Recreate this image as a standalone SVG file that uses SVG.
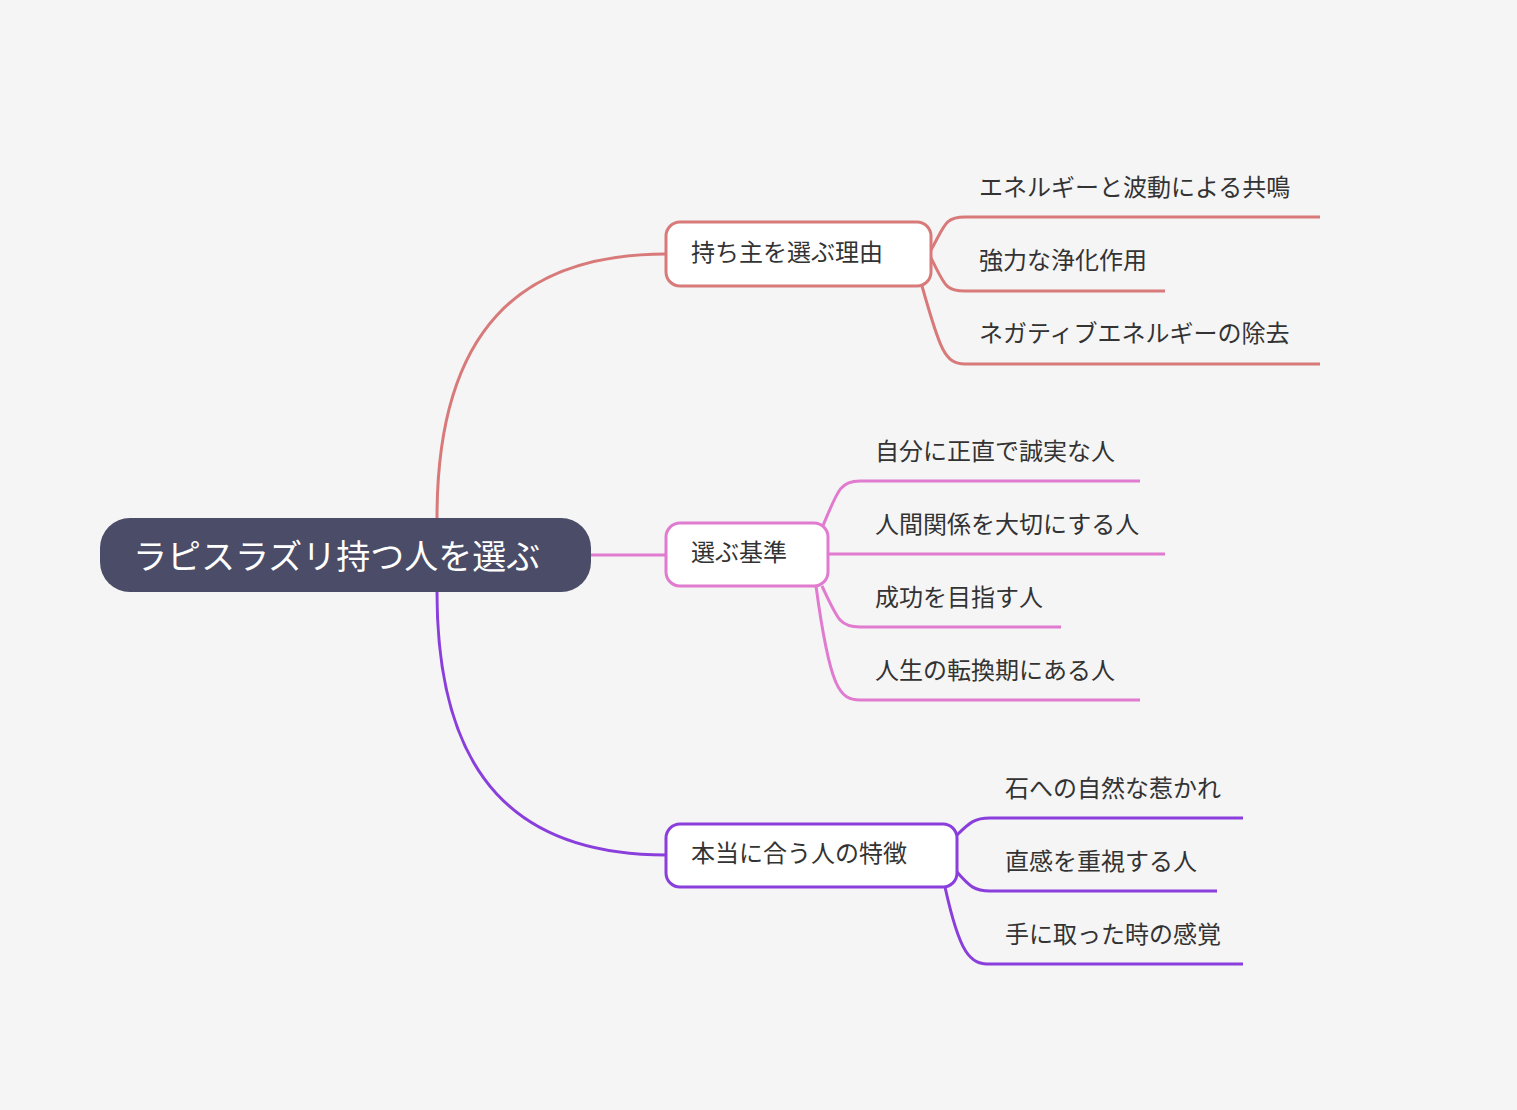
<svg xmlns="http://www.w3.org/2000/svg" width="1517" height="1110" viewBox="0 0 1517 1110">
<style>
text{font-family:"Noto Sans CJK JP","Noto Sans",sans-serif;fill:#333;font-size:24px}
.c{fill:none;stroke-width:3}
.n{fill:#fff;stroke-width:3}
.a{stroke:#d97a7a}.b{stroke:#e07bd0}.p{stroke:#8a3fdc}
</style>
<rect width="1517" height="1110" fill="#f5f5f5"/>
<g id="connectors">
<path class="c a" d="M437,518 C437,330 520,254 666,254"/>
<path class="c b" d="M591,555 L666,555"/>
<path class="c p" d="M437,592 C437,780 520,855 666,855"/>
<path class="c a" d="M931,250 C945,225 945,217 965,217 L1320,217"/>
<path class="c a" d="M931,258 C945,285 945,291 965,291 L1165,291"/>
<path class="c a" d="M922,286 C940,350 945,364 965,364 L1320,364"/>
<path class="c b" d="M822,528 C838,490 840,481 860,481 L1140,481"/>
<path class="c b" d="M828,554 L1165,554"/>
<path class="c b" d="M822,586 C838,620 840,627 860,627 L1061,627"/>
<path class="c b" d="M816,586 C830,690 840,700 860,700 L1140,700"/>
<path class="c p" d="M957,835 C970,822 975,818 990,818 L1243,818"/>
<path class="c p" d="M957,872 C970,887 975,891 990,891 L1217,891"/>
<path class="c p" d="M945,887 C960,955 970,964 990,964 L1243,964"/>
</g>
<g id="root"><rect x="100" y="518" width="491" height="74" rx="30" fill="#4a4c68"/><text x="133" y="569" style="fill:#fff;font-size:34px">ラピスラズリ持つ人を選ぶ</text></g>
<g id="b1"><rect class="n a" x="666" y="222" width="265" height="64" rx="14"/><text x="691" y="261">持ち主を選ぶ理由</text></g>
<g id="b2"><rect class="n b" x="666" y="523" width="162" height="63" rx="14"/><text x="691" y="561">選ぶ基準</text></g>
<g id="b3"><rect class="n p" x="666" y="824" width="291" height="63" rx="14"/><text x="691" y="862">本当に合う人の特徴</text></g>
<g id="l11"><text x="979" y="196">エネルギーと波動による共鳴</text></g>
<g id="l12"><text x="979" y="269">強力な浄化作用</text></g>
<g id="l13"><text x="979" y="342">ネガティブエネルギーの除去</text></g>
<g id="l21"><text x="875" y="460">自分に正直で誠実な人</text></g>
<g id="l22"><text x="875" y="533">人間関係を大切にする人</text></g>
<g id="l23"><text x="875" y="606">成功を目指す人</text></g>
<g id="l24"><text x="875" y="679">人生の転換期にある人</text></g>
<g id="l31"><text x="1005" y="797">石への自然な惹かれ</text></g>
<g id="l32"><text x="1005" y="870">直感を重視する人</text></g>
<g id="l33"><text x="1005" y="943">手に取った時の感覚</text></g>
</svg>
